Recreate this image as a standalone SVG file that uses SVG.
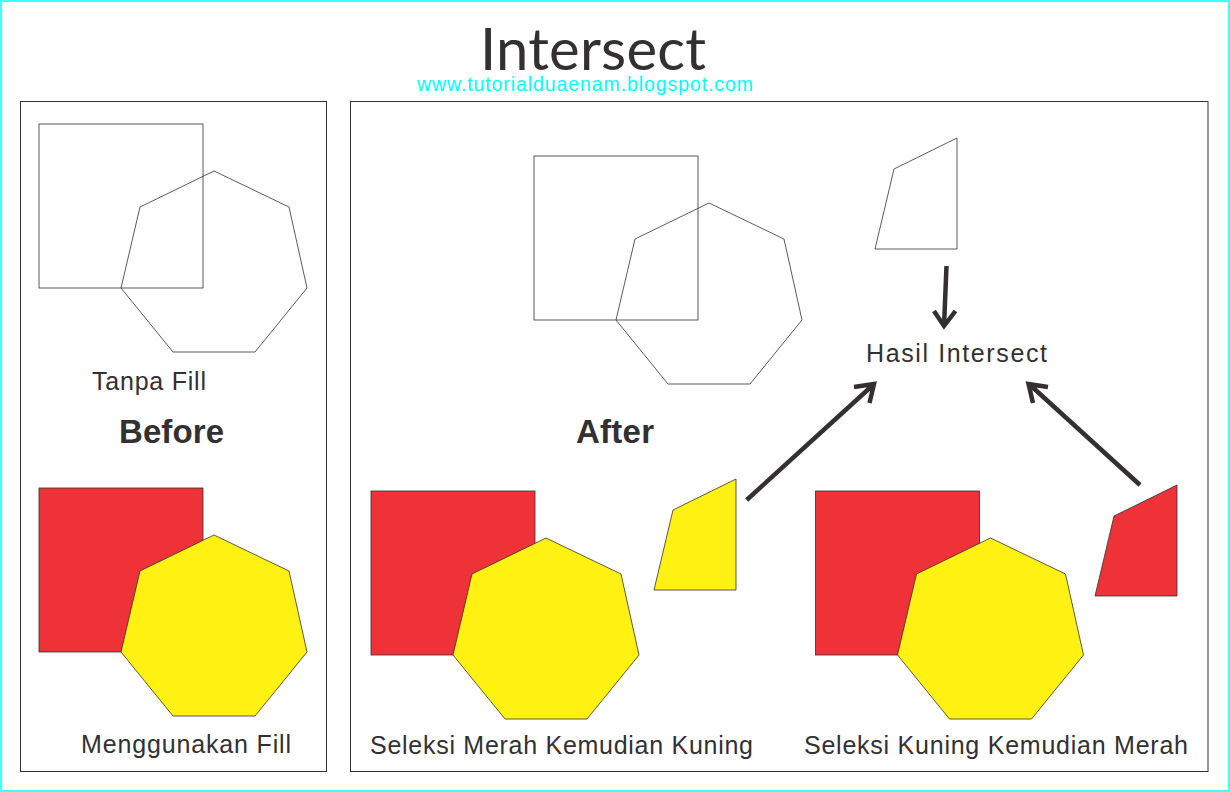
<svg xmlns="http://www.w3.org/2000/svg" width="1230" height="792" viewBox="0 0 1230 792">
<style>
text{font-family:"Liberation Sans",Arial,sans-serif;fill:#333031}
.l{font-size:25px}
.b{font-size:33px;font-weight:bold}
.o{fill:none;stroke:#333031;stroke-width:.8}
.r{fill:#ee3237;stroke:#333031;stroke-width:.8}
.y{fill:#fff212;stroke:#333031;stroke-width:.8}
.f{fill:none;stroke:#333031;stroke-width:1}
.a{fill:none;stroke:#333031;stroke-width:4.5}
</style>
<defs>
<rect id="sq" width="164" height="164" x="39" y="124"/>
<polygon id="hep" points="214,171 289,207 307,288 255,352 173,352 121,288 140,207"/>
<polygon id="cut" points="957,138 894,169 875,249 957,249"/>
</defs>
<rect width="1230" height="792" fill="#fff"/>
<rect x="1" y="1" width="1228" height="790" fill="none" stroke="#40ffff" stroke-width="2"/>
<g id="title">
<text x="480" y="70" font-size="58" textLength="226" lengthAdjust="spacing" style="font-family:Lato,sans-serif;font-weight:400">Intersect</text>
<text x="417" y="91" font-size="19.5" textLength="336" style="fill:#00ffff">www.tutorialduaenam.blogspot.com</text>
</g>
<g id="panel-before">
<rect class="f" x="20.5" y="101.5" width="306" height="670"/>
<use href="#sq" class="o"/>
<use href="#hep" class="o"/>
<text class="l" x="92" y="390" textLength="114">Tanpa Fill</text>
<text class="b" x="119" y="443" textLength="105">Before</text>
<use href="#sq" class="r" transform="translate(0,364)"/>
<use href="#hep" class="y" transform="translate(0,364)"/>
<text class="l" x="81" y="753" textLength="210">Menggunakan Fill</text>
</g>
<g id="panel-after">
<rect class="f" x="350.5" y="101.5" width="857.5" height="670"/>
<use href="#sq" class="o" transform="translate(495,32)"/>
<use href="#hep" class="o" transform="translate(495,32)"/>
<text class="b" x="576" y="443" textLength="78">After</text>
</g>
<g id="result-outline"><use href="#cut" class="o"/></g>
<g id="result-label"><text class="l" x="866" y="362" textLength="181">Hasil Intersect</text></g>
<g id="red-then-yellow">
<use href="#sq" class="r" transform="translate(332,367)"/>
<use href="#hep" class="y" transform="translate(332,367)"/>
<use href="#cut" class="y" transform="translate(-221,341)"/>
<text class="l" x="370" y="754" textLength="383">Seleksi Merah Kemudian Kuning</text>
</g>
<g id="yellow-then-red">
<use href="#sq" class="r" transform="translate(776.500,367)"/>
<use href="#hep" class="y" transform="translate(776.500,367)"/>
<use href="#cut" class="r" transform="translate(220,347)"/>
<text class="l" x="804" y="754" textLength="384">Seleksi Kuning Kemudian Merah</text>
</g>
<g id="connectors">
<path class="a" d="M946.500 266L944 326M934 311L944 326L955.500 311"/>
<path class="a" d="M746.700 500L873 385M854 387L874 384L869.500 403"/>
<path class="a" d="M1140 485L1029 384M1048 387L1028.500 384L1033 403"/>
</g>
</svg>
